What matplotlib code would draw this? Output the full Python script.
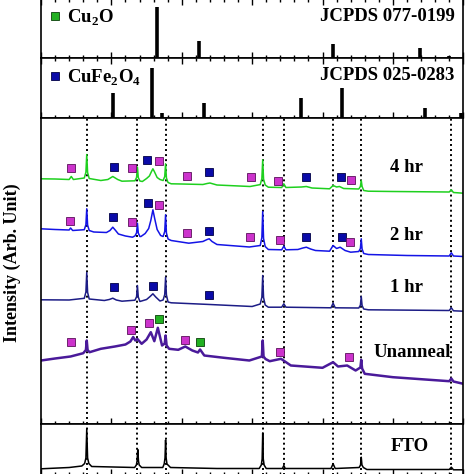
import matplotlib
matplotlib.use("Agg")

import numpy as np
import matplotlib.pyplot as plt

plt.rcParams["font.family"] = ["Liberation Serif", "DejaVu Serif"]
plt.rcParams["font.weight"] = "bold"
plt.rcParams["mathtext.fontset"] = "custom"
plt.rcParams["mathtext.rm"] = "Liberation Serif:bold"
plt.rcParams["mathtext.bf"] = "Liberation Serif:bold"

# ── reference patterns (2theta, relative intensity) ──────────────────────────
cu2o_tt = [36.5, 42.5, 61.5, 73.8, 77.9]
cu2o_int = [100, 34.5, 27.3, 19.5, 4.5]

cufe_tt = [30.2, 35.7, 37.2, 43.1, 57.0, 62.8, 74.6, 79.7]
cufe_int = [50.7, 100, 11.2, 29.6, 40.8, 60.5, 19.7, 9.9]

# FTO (SnO2) peak positions, dotted guide lines
fto_peaks = [26.5, 33.7, 37.7, 51.5, 54.5, 61.5, 65.5, 78.3]

tt_4hr = [20.0, 22.0, 24.0, 24.3, 24.6, 26.15, 26.38, 26.5, 26.62, 26.85, 28.5, 29.5,
          30.2, 30.9, 31.5, 33.35, 33.58, 33.7, 33.82, 34.05, 34.4, 35.0, 35.4, 35.7,
          35.9, 36.1, 36.5, 36.9, 37.35, 37.58, 37.7, 37.82, 38.05, 38.5, 40.0, 43.0,
          43.6, 44.0, 44.5, 45.0, 49.7, 51.15, 51.38, 51.5, 51.62, 51.85, 52.3, 54.2,
          54.5, 54.8, 57.0, 57.7, 58.5, 61.0, 61.5, 62.0, 62.4, 63.0, 65.15, 65.38,
          65.5, 65.62, 65.85, 66.5, 70.0, 78.0, 78.3, 78.6, 80.0]
int_4hr = [244.7, 244.5, 244, 247, 244, 245.5, 251.2, 269, 251, 245, 243, 244,
           247, 244, 242.3, 242.7, 246, 256.3, 246, 242.5, 242, 245, 247.5, 252,
           254.7, 252, 246, 244, 243, 247, 259.7, 245.5, 241, 239.7, 239.5, 239,
           240, 240.5, 239.5, 238.5, 237, 238.9, 244.8, 263.7, 244.4, 238.5, 236.3, 236,
           239.7, 236, 236.5, 237, 235.5, 234.7, 238, 236.5, 237, 235, 234.5, 237,
           243, 237, 233, 232.3, 232, 231.5, 233.7, 231, 230.3]

tt_2hr = [20.0, 22.0, 24.0, 24.2, 24.5, 26.15, 26.38, 26.5, 26.62, 26.85, 27.5, 29.3,
          29.8, 30.2, 30.6, 31.0, 32.0, 33.0, 33.35, 33.58, 33.7, 33.82, 34.05, 34.2,
          34.8, 35.3, 35.6, 35.9, 36.15, 36.5, 37.0, 37.35, 37.58, 37.7, 37.82, 38.05,
          38.5, 41.0, 43.0, 43.6, 43.9, 44.3, 45.0, 49.6, 51.15, 51.38, 51.5, 51.62,
          51.85, 52.3, 54.2, 54.5, 54.8, 56.5, 57.2, 57.7, 58.3, 59.0, 61.0, 61.5,
          62.0, 62.5, 63.2, 64.0, 65.15, 65.38, 65.5, 65.62, 65.85, 66.5, 72.0, 78.0,
          78.3, 78.6, 80.0]
int_2hr = [194.7, 194, 193.5, 195.5, 193, 193.8, 198.8, 214.7, 198.5, 193, 191.5, 191,
           193, 196.3, 193, 189.5, 187.5, 186.3, 187.6, 190.6, 200.3, 190.5, 187, 187,
           190, 195, 203, 213.7, 205, 194, 188, 187, 192, 208.7, 190.5, 184.5,
           183, 180.3, 182, 184, 184.7, 182, 179, 176.5, 178, 186, 212, 185,
           177, 174, 173.7, 177.3, 173.7, 174, 175.5, 176.3, 174.5, 173, 172.3, 178,
           175, 176.3, 173, 171.3, 172, 175, 184.7, 174.5, 170, 169, 168, 167.5,
           170.7, 167.5, 167]

tt_1hr = [20.0, 24.0, 26.15, 26.38, 26.5, 26.62, 26.85, 29.0, 29.7, 30.2, 30.7, 31.5,
          33.35, 33.58, 33.7, 33.82, 34.05, 35.0, 35.5, 35.9, 36.3, 36.9, 37.35, 37.58,
          37.7, 37.82, 38.05, 38.5, 44.0, 50.0, 51.15, 51.38, 51.5, 51.62, 51.85, 52.3,
          54.2, 54.5, 54.8, 61.2, 61.5, 61.8, 65.15, 65.38, 65.5, 65.62, 65.85, 66.5,
          78.0, 78.3, 78.6, 80.0]
int_1hr = [123.7, 123.5, 125.2, 131.4, 151, 131.2, 124.5, 123, 124, 125.3, 123.5, 122.3,
           123.3, 126.8, 138, 126.5, 122, 124, 127, 129.7, 126.5, 122.5, 123.5, 129,
           146.3, 128.5, 121.5, 120.7, 119, 117, 119.5, 126.3, 148, 126, 118.5, 116.3,
           116.3, 119.7, 116.3, 115.7, 120.3, 115.7, 115.5, 118.3, 127, 118, 114.5, 113.7,
           113, 115.7, 112.7, 112.3]

tt_unan = [20.0, 22.0, 24.2, 26.0, 26.38, 26.5, 26.62, 26.9, 28.5, 30.5, 32.0, 32.7,
           33.1, 33.4, 33.7, 34.3, 35.0, 35.6, 36.1, 36.6, 37.2, 37.58, 37.7, 37.85,
           38.2, 39.5, 40.5, 41.5, 42.3, 42.6, 43.2, 46.0, 49.6, 51.38, 51.5, 51.62,
           51.9, 52.5, 54.1, 55.5, 60.0, 61.5, 62.2, 63.5, 64.7, 65.38, 65.5, 65.62,
           66.0, 70.0, 78.0, 78.3, 78.6, 80.0]
int_unan = [63, 65, 67, 70.3, 73.5, 83, 73.5, 71.3, 74.7, 77, 79, 82,
            86.5, 83, 84.5, 79.7, 84, 91.3, 82.3, 95.7, 78, 80, 88, 78,
            74.7, 73.7, 77, 73, 71, 74, 68, 65.7, 63, 67, 83, 67,
            64.5, 62.3, 64.7, 58, 55.7, 61.3, 57, 58, 53, 56, 63.7, 55,
            49.7, 46.3, 42.3, 45, 42, 39.7]

tt_fto = [20.0, 24.0, 25.8, 26.2, 26.38, 26.5, 26.62, 26.8, 27.2, 33.3, 33.55, 33.65,
          33.75, 33.85, 33.95, 34.3, 37.3, 37.5, 37.62, 37.7, 37.78, 37.9, 38.4, 45.0,
          51.0, 51.3, 51.42, 51.5, 51.58, 51.7, 52.0, 54.3, 54.5, 54.7, 61.2, 61.5,
          61.8, 65.2, 65.4, 65.5, 65.6, 65.8, 66.3, 78.0, 78.3, 78.6, 80.0]
int_fto = [6.2, 7.5, 9, 11.5, 17, 46, 17, 11.5, 8.5, 7.5, 10, 14,
           25.5, 14, 10, 7.5, 7.5, 11, 17, 35, 17, 11, 7.5, 6.5,
           6.5, 10, 16, 42, 16, 10, 6.5, 6.5, 9.5, 6.5, 6.5, 11.2,
           6.5, 7.5, 10, 17.8, 10, 7.5, 5.5, 5.5, 7.8, 5.2, 5.2]

# phase markers: m = magenta, b = CuFe2O4, g = Cu2O
mk_4hr_tt = [24.3, 30.4, 32.9, 35.0, 36.7, 40.7, 43.9, 49.8, 53.7, 57.6, 62.6, 64.1]
mk_4hr_y = [255.7, 257, 255.7, 264, 262.3, 248, 251.3, 247, 243, 247, 247, 243.7]
mk_4hr_ph = list("mbmbmmbmmbbm")
mk_2hr_tt = [24.1, 30.3, 32.9, 35.2, 36.7, 40.7, 43.8, 49.7, 53.9, 57.6, 62.7, 63.9]
mk_2hr_y = [203, 206.3, 201.3, 220.3, 219, 190.7, 193, 186.3, 184, 187, 186.3, 181.3]
mk_2hr_ph = list("mbmbmmbmmbbm")
mk_1hr_tt = [30.4, 35.9, 43.9]
mk_1hr_y = [136.3, 138, 128.7]
mk_1hr_ph = list("bbb")
mk_unan_tt = [24.2, 32.8, 35.4, 36.7, 40.5, 42.6, 54.0, 63.7]
mk_unan_y = [82, 94, 100.3, 104.7, 84, 81.3, 72, 66.3]
mk_unan_ph = list("mmmgmgmm")

phase_face = {"m": "#cc33cc", "b": "#0a0aa8", "g": "#22b022"}
phase_edge = {"m": "#5a105a", "b": "#000044", "g": "#0a400a"}

# ── layout (pixels of a 474 px square) ───────────────────────────────────────
W = 474.0
FS = 13.5


def make_ax(top_px, bot_px):
    return fig.add_axes([41 / W, 1 - bot_px / W, 422.3 / W, (bot_px - top_px) / W])


fig = plt.figure(figsize=(4.74, 4.74), dpi=100)
ax_cu = make_ax(-1.0, 58.3)
ax_cf = make_ax(58.3, 118.3)
ax_m = make_ax(118.3, 423.5)
ax_f = make_ax(423.5, 475.0)

for ax in (ax_cu, ax_cf, ax_m, ax_f):
    ax.set_xlim(20, 80)
    ax.set_yticks([])
    ax.set_xticks(np.arange(20, 81, 10))
    ax.set_xticks(np.arange(20, 81, 2), minor=True)
    ax.tick_params(axis="x", which="both", direction="in", labelbottom=False,
                   width=1.0, color="black")
    ax.tick_params(axis="x", which="major", length=4.5)
    ax.tick_params(axis="x", which="minor", length=2.5)
    for sp in ax.spines.values():
        sp.set_linewidth(1.2)

ax_cu.tick_params(axis="x", which="both", top=True, bottom=True)
ax_cf.tick_params(axis="x", which="both", top=True, bottom=True)
ax_m.tick_params(axis="x", which="both", top=False, bottom=True)
ax_f.tick_params(axis="x", which="both", top=False, bottom=True)

# ── Cu2O reference ───────────────────────────────────────────────────────────
ax_cu.set_ylim(0, 115.6)
ax_cu.vlines(cu2o_tt, 0, cu2o_int, colors="black", lw=2.6)
ax_cu.plot([22.0], [82], "s", ms=5.5, mfc=phase_face["g"], mec=phase_edge["g"], mew=0.6)
ax_cu.text(23.7, 78, r"Cu$_\mathbf{2}$O", fontsize=FS, fontweight="bold", va="center")
ax_cu.text(78.8, 81, "JCPDS 077-0199", fontsize=FS, fontweight="bold",
           va="center", ha="right")

# ── CuFe2O4 reference ────────────────────────────────────────────────────────
ax_cf.set_ylim(0, 118.3)
ax_cf.vlines(cufe_tt, 0, cufe_int, colors="black", lw=2.6)
ax_cf.plot([22.0], [84], "s", ms=5.5, mfc=phase_face["b"], mec=phase_edge["b"], mew=0.6)
ax_cf.text(23.7, 80, r"CuFe$_\mathbf{2}$O$_\mathbf{4}$", fontsize=FS, fontweight="bold",
           va="center")
ax_cf.text(78.8, 84, "JCPDS 025-0283", fontsize=FS, fontweight="bold",
           va="center", ha="right")

# ── annealed / unannealed films ──────────────────────────────────────────────
ax_m.set_ylim(0, 305.2)
for p in fto_peaks:
    ax_m.axvline(p, color="black", ls=(0, (1, 1.6)), lw=1.4, zorder=1)
    ax_f.axvline(p, color="black", ls=(0, (1, 1.6)), lw=1.4, zorder=1)

ax_m.plot(tt_4hr, int_4hr, color="#1ed01e", lw=1.1, zorder=2)
ax_m.plot(tt_2hr, int_2hr, color="#1414e6", lw=1.1, zorder=2)
ax_m.plot(tt_1hr, int_1hr, color="#1c1c86", lw=1.1, zorder=2)
ax_m.plot(tt_unan, int_unan, color="#4a1a9a", lw=1.8, zorder=2)

for tt, yy, ph in ((mk_4hr_tt, mk_4hr_y, mk_4hr_ph), (mk_2hr_tt, mk_2hr_y, mk_2hr_ph),
                   (mk_1hr_tt, mk_1hr_y, mk_1hr_ph), (mk_unan_tt, mk_unan_y, mk_unan_ph)):
    for t, y, p in zip(tt, yy, ph):
        ax_m.plot([t], [y], "s", ms=6.2, mfc=phase_face[p], mec=phase_edge[p],
                  mew=0.6, zorder=3)

ax_m.text(71.9, 256.3, "4 hr", fontsize=FS, fontweight="bold", ha="center", va="center")
ax_m.text(71.9, 188.0, "2 hr", fontsize=FS, fontweight="bold", ha="center", va="center")
ax_m.text(71.9, 136.3, "1 hr", fontsize=FS, fontweight="bold", ha="center", va="center")
ax_m.text(72.7, 71.3, "Unanneal", fontsize=FS, fontweight="bold", ha="center", va="center")

# ── FTO substrate ────────────────────────────────────────────────────────────
ax_f.set_ylim(0, 51.5)
ax_f.plot(tt_fto, int_fto, color="black", lw=1.1, zorder=2)
ax_f.text(72.4, 28.5, "FTO", fontsize=FS, fontweight="bold", ha="center", va="center")

fig.text(12 / W, 1 - 263 / W, "Intensity (Arb. Unit)", rotation=90, fontsize=13,
         fontweight="bold", ha="center", va="center")

fig.savefig("out.png", dpi=100)
